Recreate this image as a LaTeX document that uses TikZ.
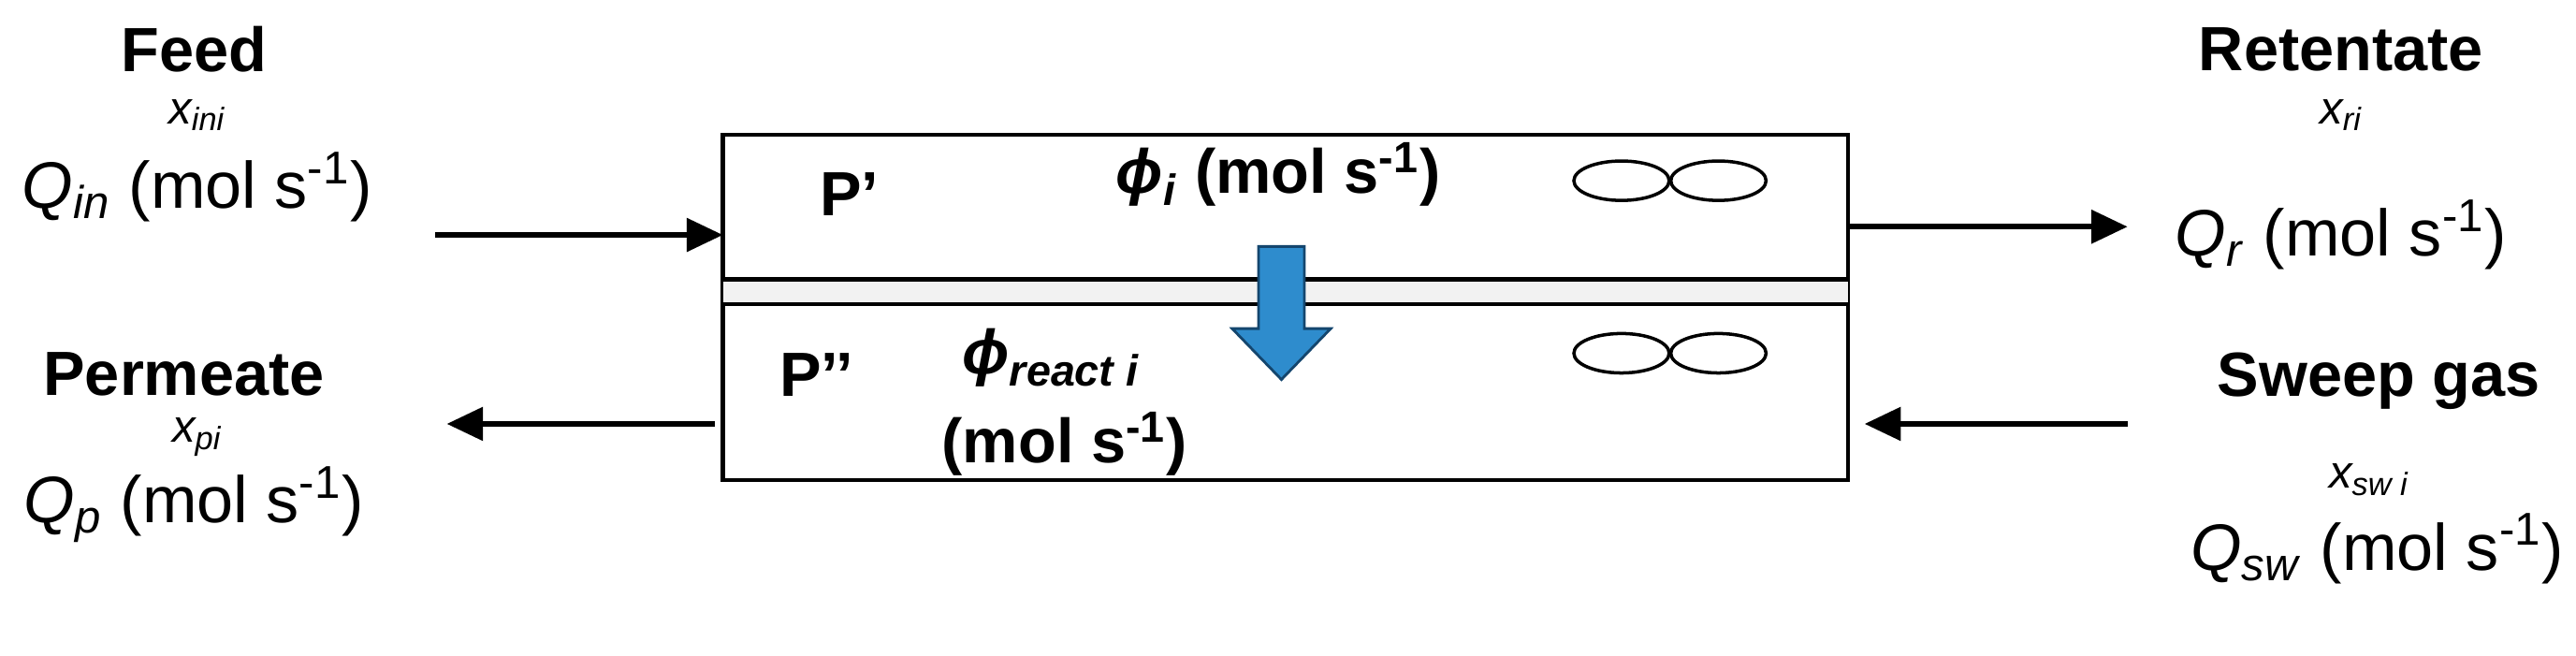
\documentclass[tikz,border=0pt]{standalone}
\usepackage{fontspec}
\setmainfont{Liberation Sans}
\usetikzlibrary{arrows.meta}
\begin{document}
\begin{tikzpicture}[x=0.5pt,y=-0.5pt,
  big/.style={font=\fontsize{20}{24}\selectfont,inner sep=0pt},
  bigb/.style={font=\fontsize{19}{24}\selectfont\bfseries,inner sep=0pt},
  small/.style={font=\fontsize{14}{18}\selectfont\itshape,inner sep=0pt},
  flow/.style={line width=1.6pt,-{Triangle[length=11pt,width=10pt]}},
  wall/.style={line width=1.2pt}]
\useasboundingbox (0,0) rectangle (1568,399);
% box
\draw[wall] (440,82) rectangle (1125,292);
\fill[gray!10] (440,170) rectangle (1125,185);
\draw[wall] (440,170) -- (1125,170) (440,185) -- (1125,185);
\coordinate (bl) at (440,143); \coordinate (br) at (1125,138);
\coordinate (bl2) at (435,258); \coordinate (br2) at (1135,258);
% left texts
\node[bigb] (feed) at (118,30) {Feed};
\node[small] (xin) at (120,70) {x\textsubscript{ini}};
\node[big] (qin) at (120,114) {\textit{Q}\textsubscript{\textit{in}} (mol s\textsuperscript{-1})};
\node[bigb] (perm) at (112,228) {Permeate};
\node[small] (xp) at (120,266) {x\textsubscript{pi}};
\node[big] (qp) at (118,307) {\textit{Q}\textsubscript{\textit{p}} (mol s\textsuperscript{-1})};
% right texts
\node[bigb] (ret) at (1425,30) {Retentate};
\node[small] (xr) at (1425,70) {x\textsubscript{ri}};
\node[big] (qr) at (1425,143) {\textit{Q}\textsubscript{\textit{r}} (mol s\textsuperscript{-1})};
\node[bigb] (sw) at (1448,232) {Sweep gas};
\node[small] (xsw) at (1442,292) {x\textsubscript{sw i}};
\node[big] (qsw) at (1447,334) {\textit{Q}\textsubscript{\textit{sw}} (mol s\textsuperscript{-1})};
% inner texts
\node[bigb] (p1) at (517,118) {P’};
\node[bigb] (p2) at (497,228) {P’’};
\node[bigb] (phi) at (778,106) {\textit{ϕ}\textsubscript{\textit{i}} (mol s\textsuperscript{-1})};
\node[bigb] (phir) at (640,218) {\textit{ϕ}\textsubscript{\textit{react i}}};
\node[bigb] (mol) at (648,270) {(mol s\textsuperscript{-1})};
% arrows
\coordinate (a1) at (265,143); \draw[flow] (a1) -- (bl);
\coordinate (a2) at (272,258); \draw[flow] (bl2) -- (a2);
\coordinate (a3) at (1295,138); \draw[flow] (br) -- (a3);
\coordinate (a4) at (1295,258); \draw[flow] (a4) -- (br2);
% blue arrow
\draw[fill={rgb,255:red,46;green,140;blue,205},draw={rgb,255:red,20;green,70;blue,110},line width=0.8pt]
  (766,150) -- (794,150) -- (794,200) -- (810,200) -- (780,231) -- (750,200) -- (766,200) -- cycle;
% ellipses
\foreach \y in {110,215}{
  \draw[line width=1pt] (987,\y) ellipse (29 and 12);
  \draw[line width=1pt] (1046,\y) ellipse (29 and 12);
}
\end{tikzpicture}
\end{document}
